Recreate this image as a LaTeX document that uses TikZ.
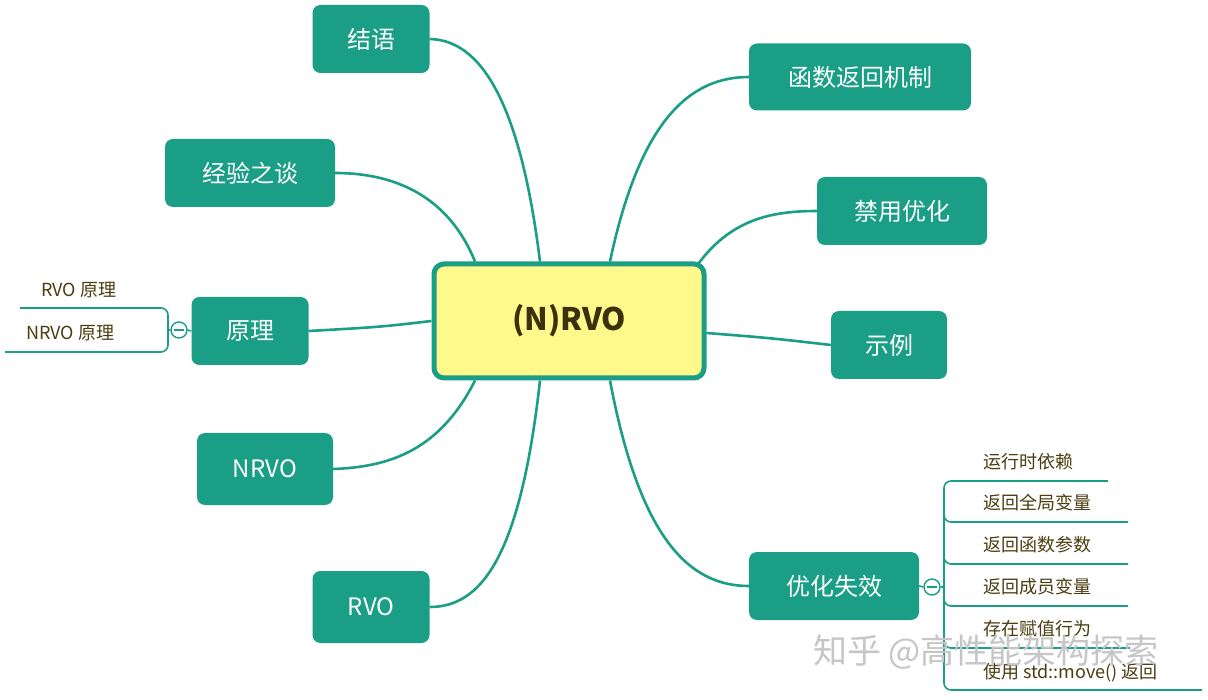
\documentclass[tikz,border=0pt]{standalone}
\usepackage{fontspec}
\setmainfont{Noto Sans CJK SC}
\begin{document}
\begin{tikzpicture}[x=1pt,y=-1pt,
  teal/.style={draw=tealc,line width=2.6pt},
  topic/.style={fill=tealc,rounded corners=8pt,text=white,font=\fontsize{24}{28}\selectfont,inner sep=0pt},
  sub/.style={text=subc,font=\fontsize{18}{21}\selectfont,anchor=west,inner sep=0pt},
  thin/.style={draw=tealc,line width=1.6pt,rounded corners=7pt}]
\definecolor{tealc}{HTML}{1A9E86}
\definecolor{subc}{HTML}{4A3D10}
\useasboundingbox (0,0) rectangle (1208,700);
\fill[white] (0,0) rectangle (1208,700);
% center
\node[draw=tealc,line width=5pt,fill=yellow!45,rounded corners=10pt,minimum width=270pt,minimum height=114pt,font=\fontsize{31}{35}\selectfont\bfseries,text=subc!80!black] (c) at (569,321) {(N)RVO};
% topics
\node[topic,minimum width=117pt,minimum height=68pt] (jy) at (371,39) {结语};
\node[topic,minimum width=170pt,minimum height=68pt] (jt) at (250,173) {经验之谈};
\node[topic,minimum width=117pt,minimum height=68pt] (yl) at (250,331) {原理};
\node[topic,minimum width=136pt,minimum height=72pt] (nr) at (265,469) {NRVO};
\node[topic,minimum width=117pt,minimum height=72pt] (rv) at (371,607) {RVO};
\node[topic,minimum width=222pt,minimum height=67pt] (hs) at (860,77) {函数返回机制};
\node[topic,minimum width=170pt,minimum height=68pt] (jy2) at (902,211) {禁用优化};
\node[topic,minimum width=116pt,minimum height=68pt] (sl) at (889,345) {示例};
\node[topic,minimum width=170pt,minimum height=68pt] (sx) at (834,586) {优化失效};
% connectors
\draw[teal] (c.north)+(-29,0) .. controls (520,100) and (480,40) .. (jy.east);
\draw[teal] (c.north)+(-94,0) .. controls (450,200) and (400,173) .. (jt.east);
\draw[teal] (c.west) .. controls (380,327) .. (yl.east);
\draw[teal] (c.south)+(-94,0) .. controls (440,450) and (390,467) .. (nr.east);
\draw[teal] (c.south)+(-29,0) .. controls (520,560) and (480,607) .. (rv.east);
\draw[teal] (c.north)+(41,0) .. controls (640,120) and (690,77) .. (hs.west);
\draw[teal] (c.north)+(128,4) .. controls (730,220) and (770,211) .. (jy2.west);
\draw[teal] (c.east)+(0,12) .. controls (770,338) .. (sl.west);
\draw[teal] (c.south)+(41,0) .. controls (640,540) and (690,586) .. (sx.west);
% right subs
\node[circle,draw=tealc,line width=1.4pt,fill=white,minimum size=16pt,inner sep=0pt] (cr) at (932,587) {};
\draw[tealc,line width=1.4pt] (927,587) -- (937,587);
\draw[tealc,line width=1.6pt] (sx.east) -- (cr.west);
\coordinate (r1) at (1108,481);\coordinate (r2) at (1128,522);\coordinate (r3) at (1128,564);
\coordinate (r4) at (1128,606);\coordinate (r5) at (1130,648);\coordinate (r6) at (1202,690);
\draw[thin] (r1) -- (944,481) -- (944,690) -- (r6);
\draw[tealc,line width=1.6pt] (cr.east) -- (944,587);
\foreach \p in {r2,r3}{\draw[thin] (944,500) |- (\p);}
\foreach \p in {r4,r5}{\draw[thin] (944,590) |- (\p);}
\node[sub] (s1) at (983,462) {运行时依赖};
\node[sub] (s2) at (983,503) {返回全局变量};
\node[sub] (s3) at (983,545) {返回函数参数};
\node[sub] (s4) at (983,587) {返回成员变量};
\node[sub] (s5) at (983,629) {存在赋值行为};
\node[sub] (s6) at (983,673) {使用 std::move() 返回};
% left subs
\node[circle,draw=tealc,line width=1.4pt,fill=white,minimum size=16pt,inner sep=0pt] (cl) at (179,330) {};
\draw[tealc,line width=1.4pt] (174,330) -- (184,330);
\coordinate (l1) at (20,308);\coordinate (l2) at (5,352);
\draw[tealc,line width=1.6pt] (yl.west) -- (cl.east);
\draw[thin] (l1) -- (168,308) -- (168,352) -- (l2);
\draw[tealc,line width=1.6pt] (cl.west) -- (168,330);
\node[sub] (p1) at (41,290) {RVO 原理};
\node[sub] (p2) at (26,333) {NRVO 原理};
% watermark
\node[anchor=west,text=gray!45,font=\fontsize{34}{38}\selectfont,inner sep=0pt] (wm) at (813,652) {知乎 @高性能架构探索};
\end{tikzpicture}
\end{document}
